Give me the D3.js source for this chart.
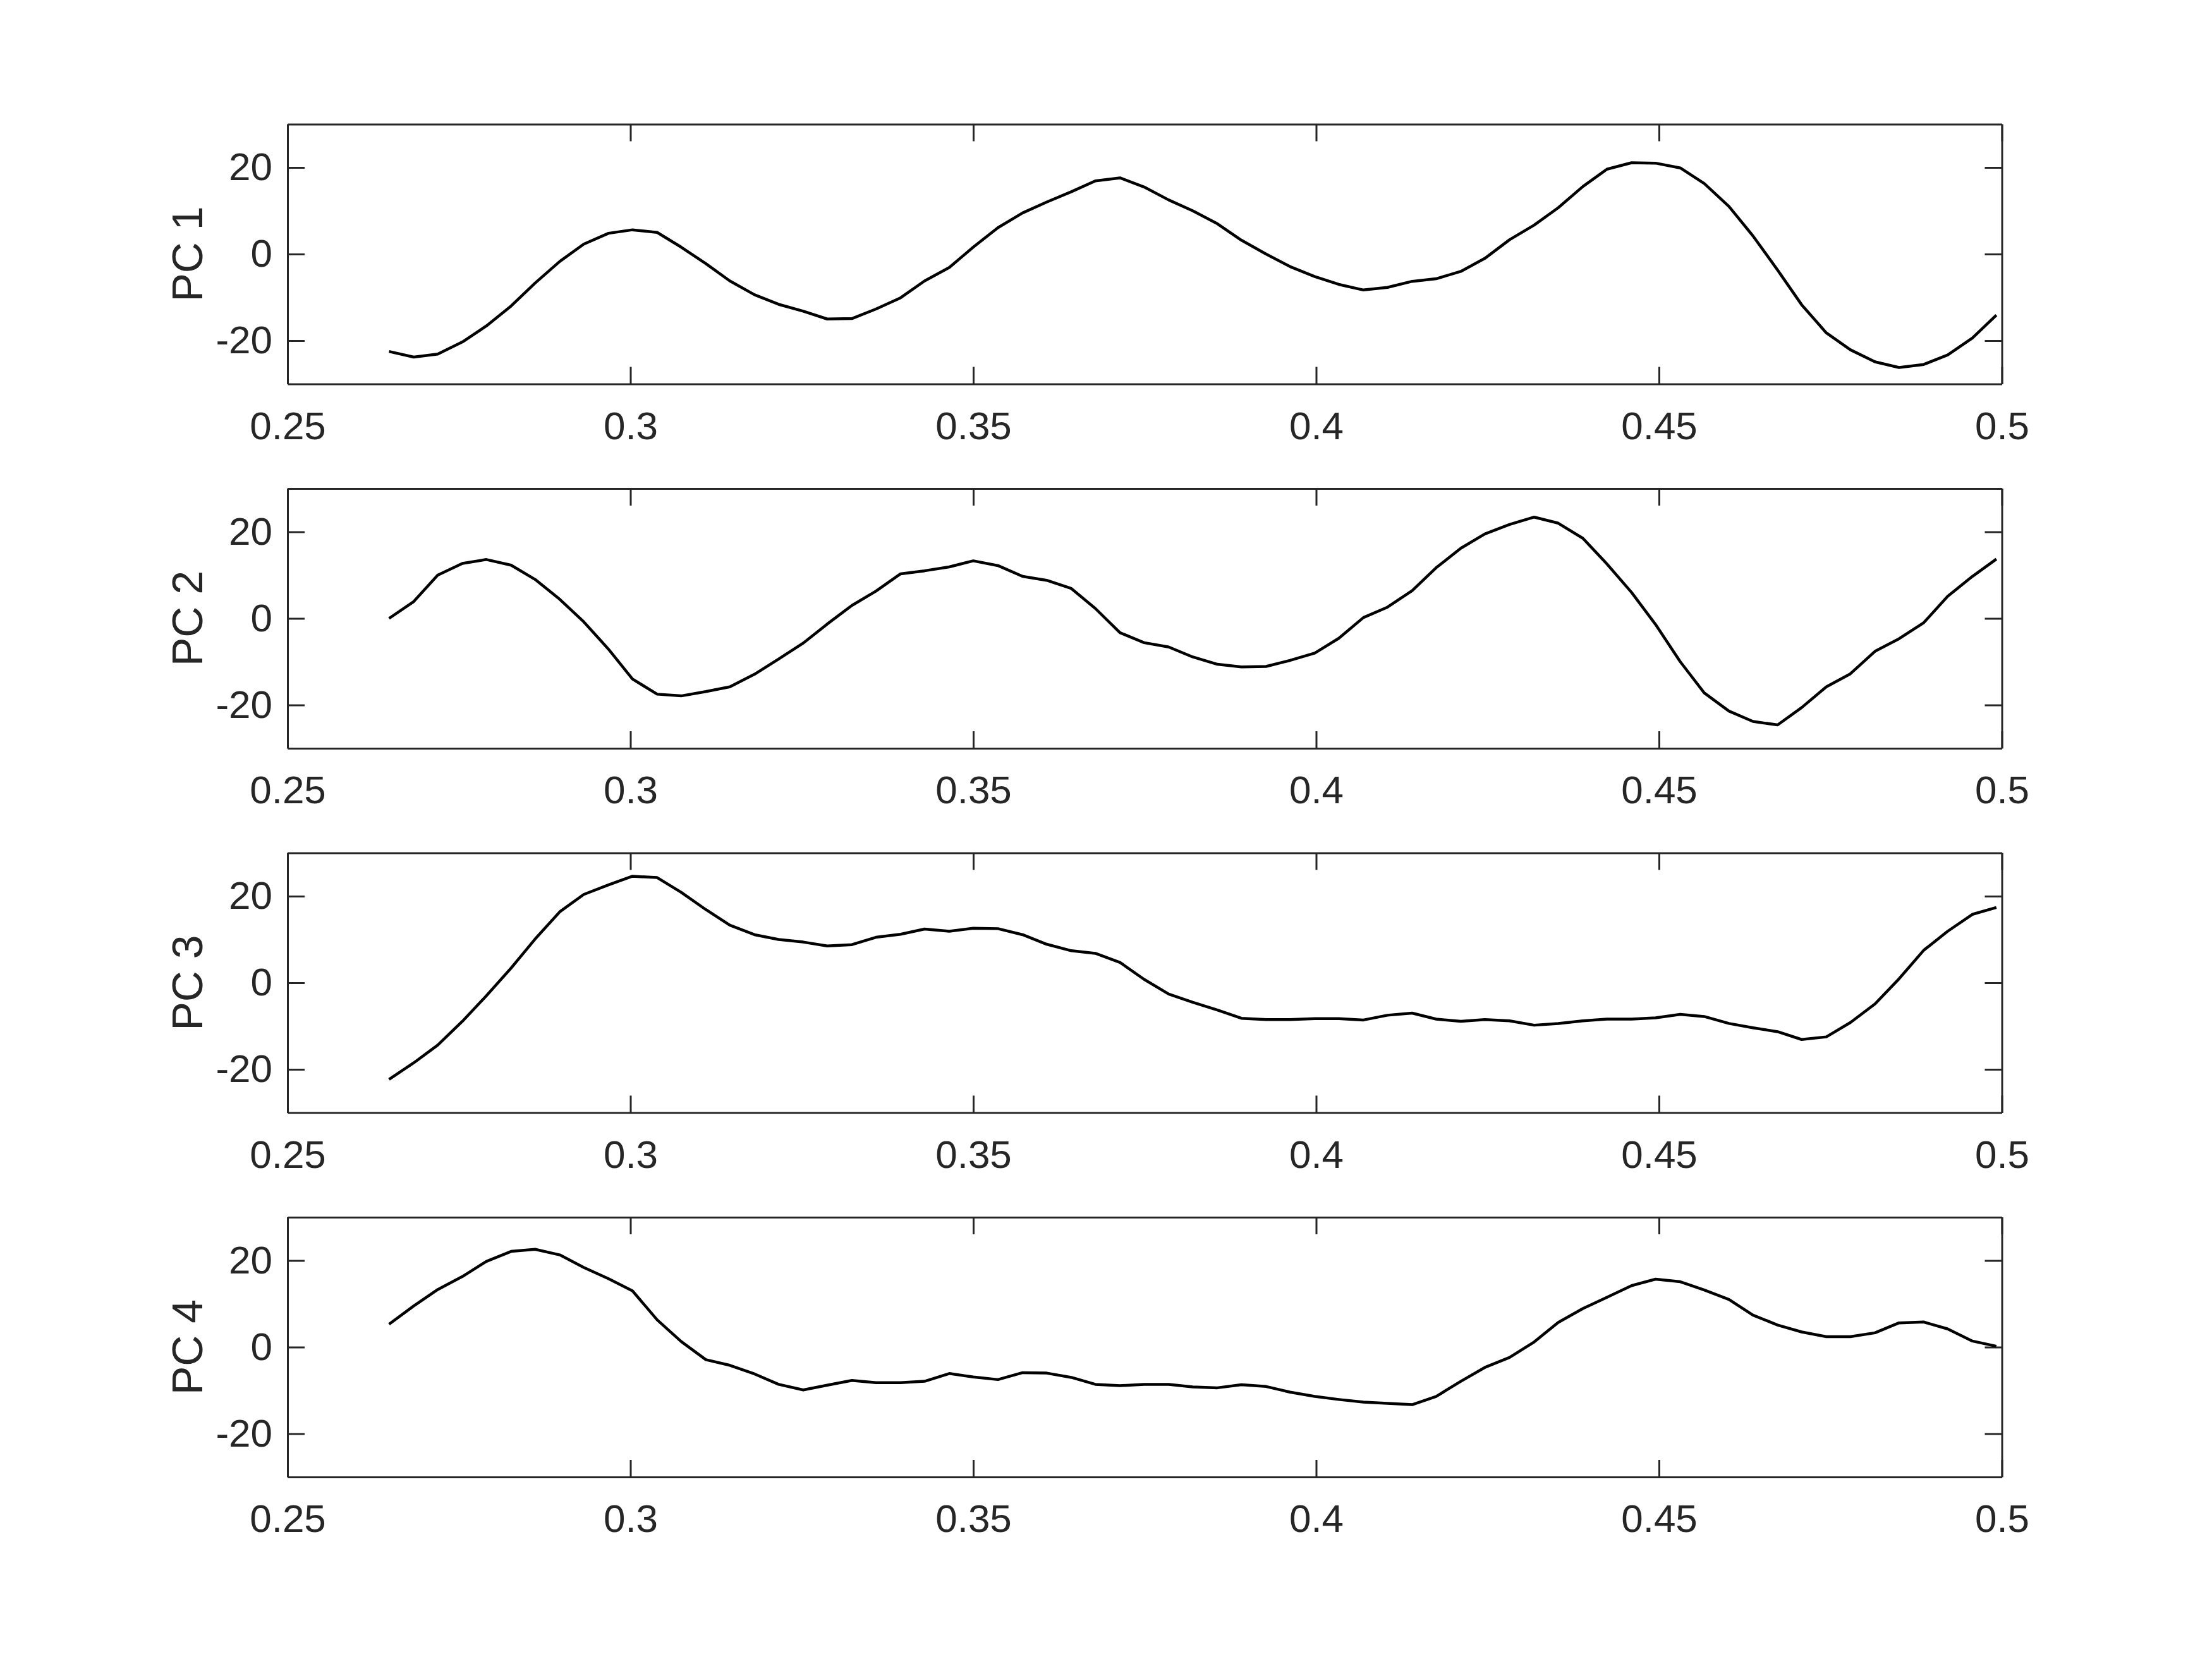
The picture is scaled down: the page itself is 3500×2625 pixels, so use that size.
<!DOCTYPE html>
<html>
<head>
<meta charset="utf-8">
<script src="https://cdn.jsdelivr.net/npm/d3@7"></script>
<style>
  html, body { margin: 0; padding: 0; background: #fff; }
  svg { display: block; }
</style>
</head>
<body>
<div id="chart"></div>
<script>
// sample positions shared by the four components
const freq = [
  0.2648, 0.2684, 0.2719, 0.2755, 0.2790, 0.2826, 0.2861, 0.2897, 0.2932, 0.2968,
  0.3003, 0.3039, 0.3074, 0.3110, 0.3145, 0.3181, 0.3216, 0.3252, 0.3287, 0.3323,
  0.3358, 0.3394, 0.3429, 0.3465, 0.3500, 0.3536, 0.3572, 0.3607, 0.3643, 0.3678,
  0.3714, 0.3749, 0.3785, 0.3820, 0.3856, 0.3891, 0.3927, 0.3962, 0.3998, 0.4033,
  0.4069, 0.4104, 0.4140, 0.4175, 0.4211, 0.4246, 0.4282, 0.4318, 0.4353, 0.4389,
  0.4424, 0.4460, 0.4495, 0.4531, 0.4566, 0.4602, 0.4637, 0.4673, 0.4708, 0.4744,
  0.4779, 0.4815, 0.4850, 0.4886, 0.4921, 0.4957, 0.4992
]

const pc1 = [
  -22.5, -23.8, -23.1, -20.3, -16.6, -12.0, -6.7, -1.7, 2.3, 4.8,
  5.6, 5.0, 1.6, -2.2, -6.2, -9.4, -11.6, -13.2, -15.0, -14.9,
  -12.7, -10.1, -6.2, -3.1, 1.6, 6.1, 9.5, 12.0, 14.4, 16.9,
  17.6, 15.5, 12.5, 10.0, 7.0, 3.2, 0.0, -2.9, -5.2, -7.0,
  -8.3, -7.7, -6.3, -5.7, -4.0, -1.0, 3.3, 6.7, 10.7, 15.6,
  19.6, 21.1, 21.0, 19.9, 16.3, 11.0, 4.2, -3.7, -11.7, -18.2,
  -22.1, -24.9, -26.2, -25.5, -23.3, -19.4, -14.1
]

const pc2 = [
  0.0, 3.9, 10.0, 12.7, 13.6, 12.3, 9.0, 4.4, -0.8, -7.1,
  -14.0, -17.5, -17.9, -16.9, -15.8, -12.9, -9.4, -5.7, -1.3, 3.0,
  6.3, 10.3, 11.0, 11.9, 13.3, 12.2, 9.7, 8.8, 6.9, 2.3,
  -3.3, -5.6, -6.6, -8.9, -10.6, -11.2, -11.1, -9.7, -8.0, -4.6,
  0.2, 2.6, 6.4, 11.7, 16.2, 19.5, 21.7, 23.4, 22.0, 18.5,
  12.6, 6.0, -1.4, -10.0, -17.2, -21.4, -23.8, -24.6, -20.6, -15.8,
  -12.8, -7.6, -4.7, -1.0, 5.1, 9.7, 13.7
]

const pc3 = [
  -22.3, -18.5, -14.4, -8.9, -3.0, 3.4, 10.1, 16.4, 20.4, 22.6,
  24.6, 24.3, 20.9, 16.9, 13.3, 11.1, 10.0, 9.4, 8.5, 8.8,
  10.5, 11.2, 12.4, 11.9, 12.6, 12.5, 11.1, 8.9, 7.4, 6.8,
  4.7, 0.8, -2.6, -4.5, -6.3, -8.2, -8.5, -8.5, -8.3, -8.3,
  -8.6, -7.5, -7.0, -8.4, -8.9, -8.5, -8.8, -9.8, -9.4, -8.8,
  -8.4, -8.4, -8.1, -7.3, -7.8, -9.4, -10.4, -11.3, -13.1, -12.5,
  -9.2, -4.9, 0.9, 7.5, 11.9, 15.8, 17.4
]

const pc4 = [
  5.3, 9.5, 13.3, 16.3, 19.8, 22.1, 22.6, 21.3, 18.4, 15.8,
  13.0, 6.3, 1.3, -2.9, -4.2, -6.2, -8.6, -9.9, -8.8, -7.7,
  -8.2, -8.2, -7.9, -6.1, -6.9, -7.5, -5.9, -6.0, -7.0, -8.6,
  -8.9, -8.6, -8.6, -9.2, -9.4, -8.7, -9.1, -10.4, -11.4, -12.1,
  -12.7, -13.0, -13.3, -11.4, -7.9, -4.7, -2.4, 1.2, 5.7, 8.9,
  11.5, 14.2, 15.7, 15.1, 13.2, 11.0, 7.4, 5.1, 3.5, 2.4,
  2.4, 3.3, 5.6, 5.8, 4.2, 1.4, 0.2
]

const series = [pc1, pc2, pc3, pc4]
const yLabels = ['PC 1', 'PC 2', 'PC 3', 'PC 4']
const xTicks = [0.25, 0.3, 0.35, 0.4, 0.45, 0.5]
const yTicks = [-20, 0, 20]
const xDomain = [0.25, 0.5]
const yDomain = [-30, 30]

const W = 3500, H = 2625
const axLeft = 455, axRight = 3167.5
const axTop = 196.5, axH = 411, axStep = 576.5
const tickLen = 27
const ink = '#262626'
const font = '"Liberation Sans", Arial, Helvetica, sans-serif'

const svg = d3.select('#chart')
  .append('svg')
    .attr('width', W)
    .attr('height', H)

svg.append('rect')
  .attr('width', W)
  .attr('height', H)
  .attr('fill', '#fff')

const x = d3.scaleLinear().domain(xDomain).range([axLeft, axRight])

const styleAxis = g => {
  g.attr('color', ink)
    .attr('font-family', font)
    .attr('font-size', 62)
  g.selectAll('path.domain').attr('stroke-width', 3)
  g.selectAll('.tick line').attr('stroke-width', 3)
  g.selectAll('.tick text').attr('fill', ink)
}

series.forEach((vals, k) => {
  const top = axTop + k * axStep
  const bottom = top + axH
  const y = d3.scaleLinear().domain(yDomain).range([bottom, top])
  const panel = svg.append('g')

  panel.append('g')
    .attr('transform', `translate(0,${bottom})`)
    .call(d3.axisBottom(x).tickValues(xTicks).tickSizeInner(-tickLen).tickSizeOuter(0)
      .tickPadding(43).tickFormat(d => String(d)))
    .call(styleAxis)

  panel.append('g')
    .attr('transform', `translate(0,${top})`)
    .call(d3.axisTop(x).tickValues(xTicks).tickSizeInner(-tickLen).tickSizeOuter(0)
      .tickFormat(''))
    .call(styleAxis)

  panel.append('g')
    .attr('transform', `translate(${axLeft},0)`)
    .call(d3.axisLeft(y).tickValues(yTicks).tickSizeInner(-tickLen).tickSizeOuter(0)
      .tickPadding(24).tickFormat(d => String(d)))
    .call(styleAxis)

  panel.append('g')
    .attr('transform', `translate(${axRight},0)`)
    .call(d3.axisRight(y).tickValues(yTicks).tickSizeInner(-tickLen).tickSizeOuter(0)
      .tickFormat(''))
    .call(styleAxis)

  const line = d3.line()
    .x(d => x(d.f))
    .y(d => y(d.v))

  panel.append('path')
    .datum(freq.map((f, i) => ({ f, v: vals[i] })))
    .attr('fill', 'none')
    .attr('stroke', '#000')
    .attr('stroke-width', 4.5)
    .attr('stroke-linejoin', 'round')
    .attr('d', line)

  panel.append('text')
    .attr('transform', `translate(320,${(top + bottom) / 2}) rotate(-90)`)
    .attr('text-anchor', 'middle')
    .attr('font-family', font)
    .attr('font-size', 68)
    .attr('fill', ink)
    .text(yLabels[k])
})
</script>
</body>
</html>
